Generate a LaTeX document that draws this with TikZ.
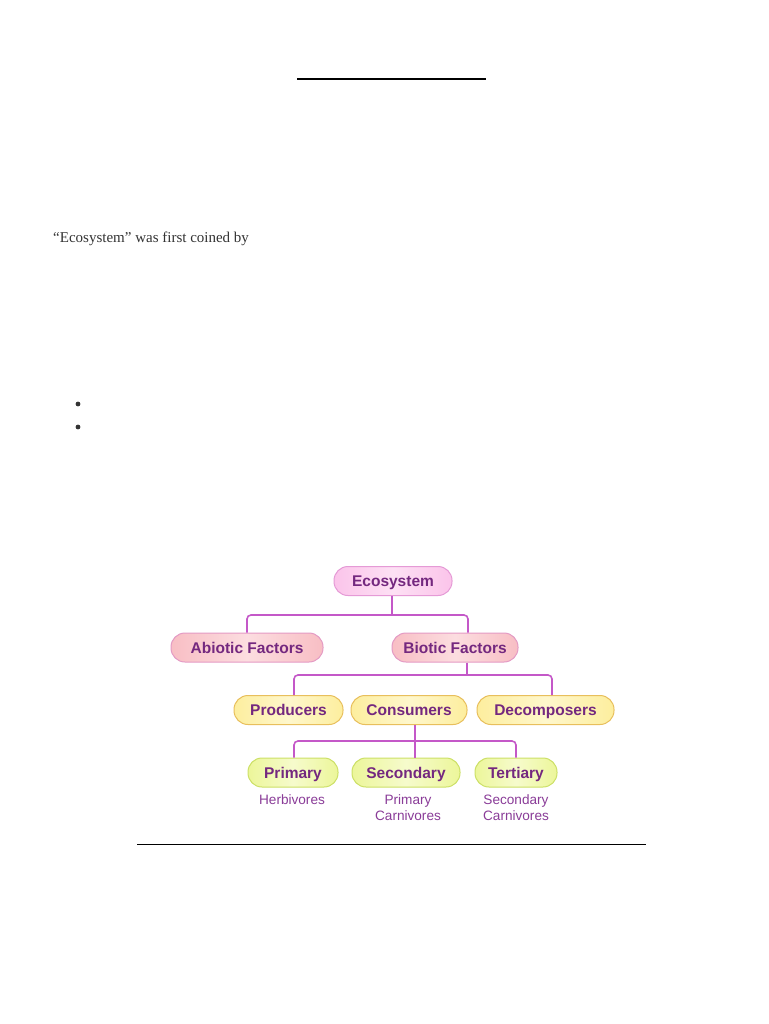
\documentclass[tikz,border=0pt]{standalone}
\usepackage{fontspec}
\setmainfont{Liberation Serif}
\newfontfamily\arialf{Liberation Sans}
\usetikzlibrary{calc}
\definecolor{txtpurple}{HTML}{74287F}
\definecolor{lblpurple}{HTML}{8A3C98}
\definecolor{connc}{HTML}{C458C8}
\definecolor{pinkfill}{HTML}{FBC4EA}
\definecolor{pinklight}{HTML}{FDE0F4}
\definecolor{pinkdraw}{HTML}{E59AD6}
\definecolor{salmonfill}{HTML}{F8BEC4}
\definecolor{salmonlight}{HTML}{FCDDE0}
\definecolor{salmondraw}{HTML}{E49AC4}
\definecolor{yelfill}{HTML}{FDEE9E}
\definecolor{yellight}{HTML}{FEF7CC}
\definecolor{yeldraw}{HTML}{E8BF5C}
\definecolor{grnfill}{HTML}{ECF69A}
\definecolor{grnlight}{HTML}{F6FBCC}
\definecolor{grndraw}{HTML}{CCE066}
\definecolor{bodytext}{HTML}{333333}
\tikzset{
  boxbase/.style={rounded corners=14pt, line width=1pt, minimum height=29pt,
    inner sep=0pt, text height=11pt, text depth=0pt,
    font=\arialf\bfseries\fontsize{15.5}{18}\selectfont, text=txtpurple},
  pinkbox/.style={boxbase, draw=pinkdraw, left color=pinkfill, right color=pinkfill, middle color=pinklight},
  salmonbox/.style={boxbase, draw=salmondraw, left color=salmonfill, right color=salmonfill, middle color=salmonlight},
  yelbox/.style={boxbase, draw=yeldraw, left color=yelfill, right color=yelfill, middle color=yellight},
  grnbox/.style={boxbase, draw=grndraw, left color=grnfill, right color=grnfill, middle color=grnlight},
  conn/.style={draw=connc, line width=1.6pt, rounded corners=4pt},
  lbl/.style={font=\arialf\fontsize{13.6}{16}\selectfont, text=lblpurple, align=center, inner sep=0pt},
  rule/.style={draw=black}
}
\begin{document}
\begin{tikzpicture}[x=1pt,y=-1pt]
\useasboundingbox (0,0) rectangle (768,1024);
\fill[white] (0,0) rectangle (768,1024);

% top rule
\coordinate (tl1) at (297,79);
\coordinate (tl2) at (486,79);
\draw[rule, line width=2.4pt] (tl1) -- (tl2);

% body text
\node[anchor=base west, inner sep=0pt, text=bodytext, font=\fontsize{15}{18}\selectfont] (coined) at (53,242) {“Ecosystem” was first coined by};

% bullets
\fill[bodytext] (78,404) circle (2.4pt);
\fill[bodytext] (78,427) circle (2.4pt);

% diagram nodes
\node[pinkbox, minimum width=118pt] (eco) at (393,581) {Ecosystem};
\node[salmonbox, minimum width=152pt] (abio) at (247,647.5) {Abiotic Factors};
\node[salmonbox, minimum width=126pt] (bio) at (455,647.5) {Biotic Factors};
\node[yelbox, minimum width=109pt] (prod) at (288.5,710) {Producers};
\node[yelbox, minimum width=116pt] (cons) at (409,710) {Consumers};
\node[yelbox, minimum width=137pt] (deco) at (545.5,710) {Decomposers};
\node[grnbox, minimum width=90pt] (prim) at (293,772.5) {Primary};
\node[grnbox, minimum width=108pt] (seco) at (406,772.5) {Secondary};
\node[grnbox, minimum width=82pt] (tert) at (516,772.5) {Tertiary};

\node[lbl, anchor=north] (herb) at (292,794) {Herbivores};
\node[lbl, anchor=north] (pcarn) at (408,794) {Primary\\Carnivores};
\node[lbl, anchor=north] (scarn) at (516,794) {Secondary\\Carnivores};

% connectors level 1
\coordinate (j1) at (392,615);
\draw[conn] (eco.south -| j1) -- (j1);
\draw[conn] (abio.north) |- (j1) -| ($(bio.north)+(13,0)$);

% connectors level 2
\coordinate (j2) at (467,675);
\draw[conn] (bio.south -| j2) -- (j2);
\draw[conn] ($(prod.north)+(5.5,0)$) |- (j2) -| ($(deco.north)+(6.5,0)$);
\draw[conn] ($(cons.north)+(6,0)$) -- ($(cons.north)+(6,0)$ |- j2);

% connectors level 3
\coordinate (j3) at (415,741);
\draw[conn] (cons.south -| j3) -- ($(seco.north)+(9,0)$);
\draw[conn] ($(prim.north)+(1,0)$) |- (j3) -| (tert.north);

% bottom rule
\coordinate (bl1) at (137,844);
\coordinate (bl2) at (646,844);
\draw[rule, line width=1pt] (bl1) -- (bl2);
\end{tikzpicture}
\end{document}
